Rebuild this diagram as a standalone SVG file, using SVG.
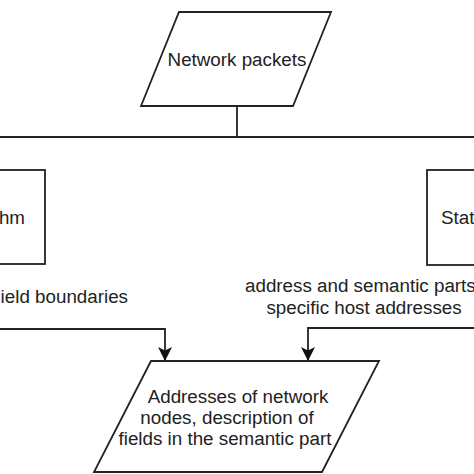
<svg xmlns="http://www.w3.org/2000/svg" width="474" height="474" viewBox="0 0 474 474">
<style>
.s{fill:#fff;stroke:#222;stroke-width:1.8}
.c{fill:none;stroke:#222;stroke-width:1.8}
.t{font-family:"Liberation Sans",Arial,sans-serif;font-size:18.8px;fill:#222}
.m{text-anchor:middle}
</style>
<defs>
<marker id="arr" viewBox="0 0 14 14" refX="13" refY="7" markerWidth="14" markerHeight="14" markerUnits="userSpaceOnUse" orient="auto">
<path d="M0,0 L14,7 L0,14 L3.5,7 Z" fill="#111"/>
</marker>
</defs>
<rect width="474" height="474" fill="#fff"/>
<g id="connectors">
<path class="c" d="M237,106 V137"/>
<path class="c" d="M0,137 H474"/>
<path class="c" d="M0,329 H165 V360" marker-end="url(#arr)"/>
<path class="c" d="M474,328 H308 V360" marker-end="url(#arr)"/>
</g>
<g id="network-packets">
<polygon class="s" points="179,12 331,12 293,106 141,106"/>
<text class="t m" x="237" y="66">Network packets</text>
</g>
<g id="left-box">
<rect class="s" x="-10" y="170" width="55" height="94"/>
<text class="t" x="25" y="224" text-anchor="end">hm</text>
</g>
<g id="right-box">
<rect class="s" x="427" y="170" width="60" height="95"/>
<text class="t" x="441" y="224">Stat</text>
</g>
<g id="left-label">
<text class="t" x="128" y="303" text-anchor="end">ield boundaries</text>
</g>
<g id="right-label">
<text class="t" x="245" y="292">address and semantic parts</text>
<text class="t m" x="364" y="314">specific host addresses</text>
</g>
<g id="result">
<polygon class="s" points="151,361 379,361 322,472 94,472"/>
<text class="t m" x="238" y="403">Addresses of network</text>
<text class="t m" x="227" y="424">nodes, description of</text>
<text class="t m" x="225" y="445">fields in the semantic part</text>
</g>
</svg>
